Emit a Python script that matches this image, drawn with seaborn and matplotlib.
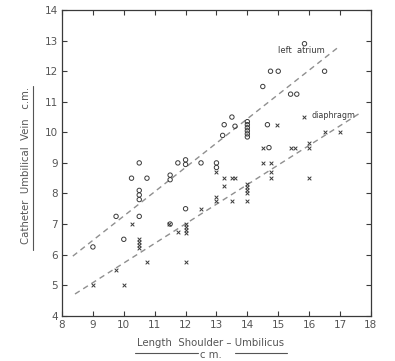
import matplotlib
matplotlib.use("Agg")
import matplotlib.pyplot as plt
from matplotlib.lines import Line2D
import seaborn as sns
import pandas as pd

# ---- data ----
atrium_x = [9.0, 9.75, 10.0, 10.25, 10.75, 10.5, 10.5, 10.5, 10.5, 10.5,
            11.5, 11.5, 11.5, 11.75, 12.0, 12.0, 12.0, 12.5, 13.0, 13.0,
            13.2, 13.25, 13.6, 13.5, 14.0, 14.0, 14.0, 14.0, 14.0, 14.0,
            14.5, 14.75, 15.0, 14.65, 14.7, 15.4, 15.6, 15.85, 16.5]
atrium_y = [6.25, 7.25, 6.5, 8.5, 8.5, 9.0, 8.1, 7.95, 7.8, 7.25,
            8.6, 8.45, 7.0, 9.0, 9.1, 8.95, 7.5, 9.0, 9.0, 8.85,
            9.9, 10.25, 10.2, 10.5, 10.35, 10.25, 10.15, 10.05, 9.95, 9.85,
            11.5, 12.0, 12.0, 10.25, 9.5, 11.25, 11.25, 12.9, 12.0]

diaph_x = [9.0, 9.75, 10.0, 10.25, 10.5, 10.5, 10.5, 10.5, 10.75, 11.45,
           11.75, 12.0, 12.0, 12.0, 12.0, 12.0, 12.5, 13.0, 13.0, 13.0,
           13.25, 13.25, 13.5, 13.6, 13.5, 14.0, 14.0, 14.0, 14.0, 14.0,
           14.5, 14.5, 14.75, 14.75, 14.75, 14.95, 15.4, 15.55, 15.85, 16.0,
           16.0, 16.0, 16.5, 17.0]
diaph_y = [5.0, 5.5, 5.0, 7.0, 6.5, 6.4, 6.3, 6.2, 5.75, 7.0,
           6.75, 7.0, 6.9, 6.8, 6.7, 5.75, 7.5, 7.9, 7.75, 8.7,
           8.5, 8.25, 8.5, 8.5, 7.75, 8.3, 8.2, 8.1, 8.0, 7.75,
           9.5, 9.0, 9.0, 8.7, 8.5, 10.25, 9.5, 9.5, 10.5, 9.65,
           9.5, 8.5, 10.0, 10.0]

atrium_line_x = [8.35, 16.9]
atrium_line_y = [5.95, 12.75]
diaph_line_x = [8.42, 17.6]
diaph_line_y = [4.71, 10.6]

x_ticks = [8, 9, 10, 11, 12, 13, 14, 15, 16, 17, 18]
y_ticks = [4, 5, 6, 7, 8, 9, 10, 11, 12, 13, 14]

atrium_df = pd.DataFrame({"length": atrium_x, "catheter": atrium_y})
diaph_df = pd.DataFrame({"length": diaph_x, "catheter": diaph_y})

# ---- style ----
sns.set_style("ticks")
plt.rcParams["font.family"] = ["DejaVu Sans"]
ink = "#3a3a3a"
txt = "#555555"

fig = plt.figure(figsize=(3.95, 3.61), dpi=100)
ax = fig.add_axes([0.157, 0.1255, 0.782, 0.8465])

sns.lineplot(x=atrium_line_x, y=atrium_line_y, ax=ax, color="#8f8f8f",
             lw=1.0, linestyle=(0, (4, 3)))
sns.lineplot(x=diaph_line_x, y=diaph_line_y, ax=ax, color="#8f8f8f",
             lw=1.0, linestyle=(0, (4, 3)))

sns.scatterplot(data=atrium_df, x="length", y="catheter", ax=ax, marker="o",
                s=10, facecolor="none", edgecolor=ink, linewidth=0.7, zorder=3)
sns.scatterplot(data=diaph_df, x="length", y="catheter", ax=ax, marker="x",
                s=7, color=ink, linewidth=0.7, zorder=3)

ax.set_xlim(8, 18)
ax.set_ylim(4, 14)
ax.set_xticks(x_ticks)
ax.set_yticks(y_ticks)
ax.set_xticklabels([str(t) for t in x_ticks], color=txt, fontsize=7.5)
ax.set_yticklabels([str(t) for t in y_ticks], color=txt, fontsize=7.5)
ax.tick_params(direction="in", length=3.5, width=0.8, color=ink,
               top=True, right=True, pad=3)
for sp in ax.spines.values():
    sp.set_visible(True)
    sp.set_linewidth(0.9)
    sp.set_color(ink)
ax.set_xlabel("")
ax.set_ylabel("")

ax.text(15.0, 12.69, "left  atrium", fontsize=6, color=ink,
        ha="left", va="center")
ax.text(16.08, 10.54, "diaphragm", fontsize=5.8, color=ink,
        ha="left", va="center")

W, H = 395.0, 361.0
# x axis label (fraction style)
fig.text(211 / W, 1 - 343 / H, "Length  Shoulder \u2013 Umbilicus",
         ha="center", va="center", fontsize=7.3, color=txt)
fig.text(211 / W, 1 - 355.5 / H, "c m.", ha="center", va="center",
         fontsize=7.3, color=txt)
fig.add_artist(Line2D([135 / W, 198 / W], [1 - 352.5 / H, 1 - 352.5 / H],
                      color=txt, lw=0.8))
fig.add_artist(Line2D([235 / W, 287 / W], [1 - 352.5 / H, 1 - 352.5 / H],
                      color=txt, lw=0.8))

# y axis label
fig.text(26 / W, 1 - 165 / H, "Catheter  Umbilical  Vein   c.m.",
         ha="center", va="center", rotation=90, fontsize=7.3, color=txt)
fig.add_artist(Line2D([33 / W, 33 / W], [1 - 250 / H, 1 - 86 / H],
                      color=txt, lw=0.8))

fig.savefig("out.png", dpi=100)
